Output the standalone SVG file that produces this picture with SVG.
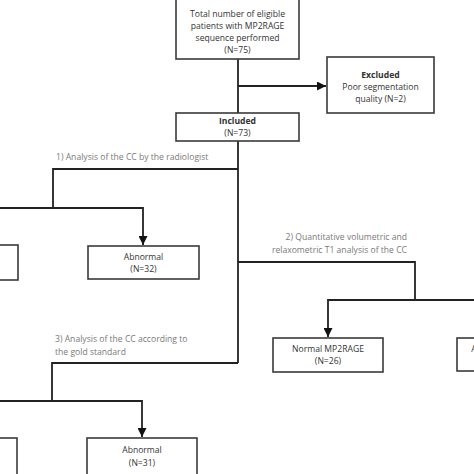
<svg xmlns="http://www.w3.org/2000/svg" width="474" height="474" viewBox="0 0 474 474">
<style>
.box{fill:#fff;stroke:#3a3a3a;stroke-width:1.6}
.t{font-family:"Open Sans","Liberation Sans",sans-serif;font-size:8.6px;fill:#333;text-anchor:middle}
.b{font-weight:bold}
.lbl{font-family:"Open Sans","Liberation Sans",sans-serif;font-size:8.6px;fill:#7a7a7a}
.c{fill:none;stroke:#222;stroke-width:1.8}
</style>
<defs>
<marker id="ah" viewBox="0 0 10 10" refX="10" refY="5" markerWidth="5" markerHeight="5" markerUnits="strokeWidth" orient="auto">
<path d="M0,0 L10,5 L0,10 z" fill="#111"/>
</marker>
</defs>
<rect width="474" height="474" fill="#fff"/>
<g id="connectors">
<path class="c" d="M238,59 V363"/>
<path class="c" d="M238,86 H326" marker-end="url(#ah)"/>
<path class="c" d="M238,169 H53 V208"/>
<path class="c" d="M-5,208 H143 V245" marker-end="url(#ah)"/>
<path class="c" d="M238,262 H415 V300"/>
<path class="c" d="M480,300 H328 V337" marker-end="url(#ah)"/>
<path class="c" d="M238,363 H52 V401"/>
<path class="c" d="M-5,401 H142 V437" marker-end="url(#ah)"/>
</g>
<g id="total">
<rect class="box" x="176" y="-2" width="123" height="61"/>
<text class="t" x="237.5" y="17">Total number of eligible</text>
<text class="t" x="237.5" y="29">patients with MP2RAGE</text>
<text class="t" x="237.5" y="41">sequence performed</text>
<text class="t" x="237.5" y="53">(N=75)</text>
</g>
<g id="excluded">
<rect class="box" x="327" y="57" width="107" height="56"/>
<text class="t b" x="380.5" y="78">Excluded</text>
<text class="t" x="380.5" y="90">Poor segmentation</text>
<text class="t" x="380.5" y="102">quality (N=2)</text>
</g>
<g id="included">
<rect class="box" x="176" y="113" width="123" height="28"/>
<text class="t b" x="237.5" y="124">Included</text>
<text class="t" x="237.5" y="136">(N=73)</text>
</g>
<g id="label1">
<text class="lbl" x="56" y="160">1) Analysis of the CC by the radiologist</text>
</g>
<g id="normal1">
<rect class="box" x="-20" y="245" width="38" height="35"/>
</g>
<g id="abnormal1">
<rect class="box" x="88" y="246" width="111" height="33"/>
<text class="t" x="143.5" y="260">Abnormal</text>
<text class="t" x="143.5" y="272">(N=32)</text>
</g>
<g id="label2">
<text class="lbl" x="407" y="240" text-anchor="end">2) Quantitative volumetric and</text>
<text class="lbl" x="407" y="253" text-anchor="end">relaxometric T1 analysis of the CC</text>
</g>
<g id="normalmp2rage">
<rect class="box" x="273" y="338" width="110" height="34"/>
<text class="t" x="328" y="352">Normal MP2RAGE</text>
<text class="t" x="328" y="364">(N=26)</text>
</g>
<g id="abnormalmp2rage">
<rect class="box" x="457" y="338" width="110" height="33"/>
<text class="t" x="512" y="352">Abnormal MP2RAGE</text>
</g>
<g id="label3">
<text class="lbl" x="55" y="342">3) Analysis of the CC according to</text>
<text class="lbl" x="55" y="355">the gold standard</text>
</g>
<g id="normal3">
<rect class="box" x="-20" y="438" width="37" height="45"/>
</g>
<g id="abnormal3">
<rect class="box" x="87" y="438" width="110" height="45"/>
<text class="t" x="142" y="453">Abnormal</text>
<text class="t" x="142" y="466">(N=31)</text>
</g>
</svg>
